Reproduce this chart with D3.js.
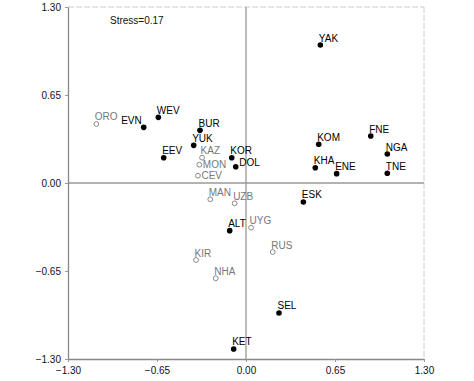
<!DOCTYPE html>
<html><head><meta charset="utf-8">
<script src="https://cdn.jsdelivr.net/npm/d3@7"></script>
<style>body{margin:0;background:#fff;} text{font-family:"Liberation Sans",Arial,sans-serif;}</style>
</head><body><svg id="c" width="474" height="381"></svg>
<script>
const labels = ["ORO","EVN","WEV","BUR","YUK","EEV","KAZ","MON","CEV","KOR","DOL","YAK","KOM","FNE","NGA","KHA","ENE","TNE","MAN","UZB","ALT","KIR","NHA","KET","ESK","UYG","RUS","SEL"];
const xValues = [-1.093,-0.747,-0.640,-0.336,-0.382,-0.601,-0.321,-0.341,-0.351,-0.104,-0.075,0.543,0.531,0.911,1.032,0.506,0.662,1.032,-0.261,-0.083,-0.119,-0.365,-0.221,-0.090,0.419,0.037,0.195,0.241];
const yValues = [0.436,0.411,0.485,0.389,0.278,0.187,0.187,0.135,0.054,0.187,0.120,1.019,0.286,0.347,0.214,0.113,0.069,0.072,-0.120,-0.150,-0.352,-0.569,-0.704,-1.226,-0.140,-0.330,-0.510,-0.960];
const group = ["open","filled","filled","filled","filled","filled","open","open","open","filled","filled","filled","filled","filled","filled","filled","filled","filled","open","open","filled","open","open","filled","filled","open","open","filled"];
const tickValues = [-1.30,-0.65,0.00,0.65,1.30];
const stressLabel = "Stress=0.17";
// label placement: "a" above-right, "l" above-left, "r" right
const place = {EVN:"l",MON:"r",CEV:"r",DOL:"r"};

const svg = d3.select("#c");
const x = d3.scaleLinear().domain([-1.3,1.3]).range([68,424]);
const y = d3.scaleLinear().domain([-1.3,1.3]).range([359,7]);

// frame top/right (faint)
svg.append("line").attr("x1",68).attr("x2",424).attr("y1",7).attr("y2",7).attr("stroke","#ccc").attr("stroke-width",1).attr("stroke-dasharray","6,2");
svg.append("line").attr("x1",424).attr("x2",424).attr("y1",7).attr("y2",359).attr("stroke","#ccc").attr("stroke-width",1).attr("stroke-dasharray","6,2");

// zero lines
svg.append("line").attr("x1",68).attr("x2",424).attr("y1",y(0)).attr("y2",y(0)).attr("stroke","#999").attr("stroke-width",1.3);
svg.append("line").attr("x1",x(0)).attr("x2",x(0)).attr("y1",7).attr("y2",359).attr("stroke","#999").attr("stroke-width",1.3);

const fmt = d3.format(".2f");
const xAxis = svg.append("g").attr("transform","translate(0,359)").call(d3.axisBottom(x).tickValues(tickValues).tickFormat(fmt).tickSize(3).tickSizeOuter(0));
const yAxis = svg.append("g").attr("transform","translate(68,0)").call(d3.axisLeft(y).tickValues(tickValues).tickFormat(fmt).tickSize(3).tickSizeOuter(0));
[xAxis,yAxis].forEach(g=>{
  g.select(".domain").attr("stroke","#888").attr("stroke-width",1.3);
  g.selectAll(".tick line").attr("stroke","#999");
  g.selectAll(".tick text").attr("fill","#111").style("font-size","10px").style("font-family","'Liberation Sans',Arial,sans-serif");
});
xAxis.selectAll(".tick text").attr("dy","0.71em").attr("y",8);
yAxis.selectAll(".tick text").attr("x",-7);

svg.append("text").attr("x",110).attr("y",23.5).attr("font-size",10).attr("fill","#111").text(stressLabel);

const data = labels.map((l,i)=>({l,x:xValues[i],y:yValues[i],g:group[i]}));
const pts = svg.append("g");
pts.selectAll("circle").data(data).join("circle")
  .attr("cx",d=>x(d.x)).attr("cy",d=>y(d.y))
  .attr("r",d=>d.g==="filled"?2.8:2.4)
  .attr("fill",d=>d.g==="filled"?"#000":"#fff")
  .attr("stroke",d=>d.g==="filled"?"none":"#888")
  .attr("stroke-width",1);
pts.selectAll("text").data(data).join("text")
  .attr("font-size",10)
  .attr("fill",d=>d.g==="filled"?"#000":"#777")
  .attr("x",d=>{const p=place[d.l]; const px=x(d.x); return p==="l"?px-2:p==="r"?px+3.5:px-1.5;})
  .attr("y",d=>{const p=place[d.l]; const py=y(d.y); return p==="r"?py+3.5-(d.l==="DOL"?4:0):py-3.5;})
  .attr("text-anchor",d=>place[d.l]==="l"?"end":"start")
  .text(d=>d.l);
</script></body></html>
